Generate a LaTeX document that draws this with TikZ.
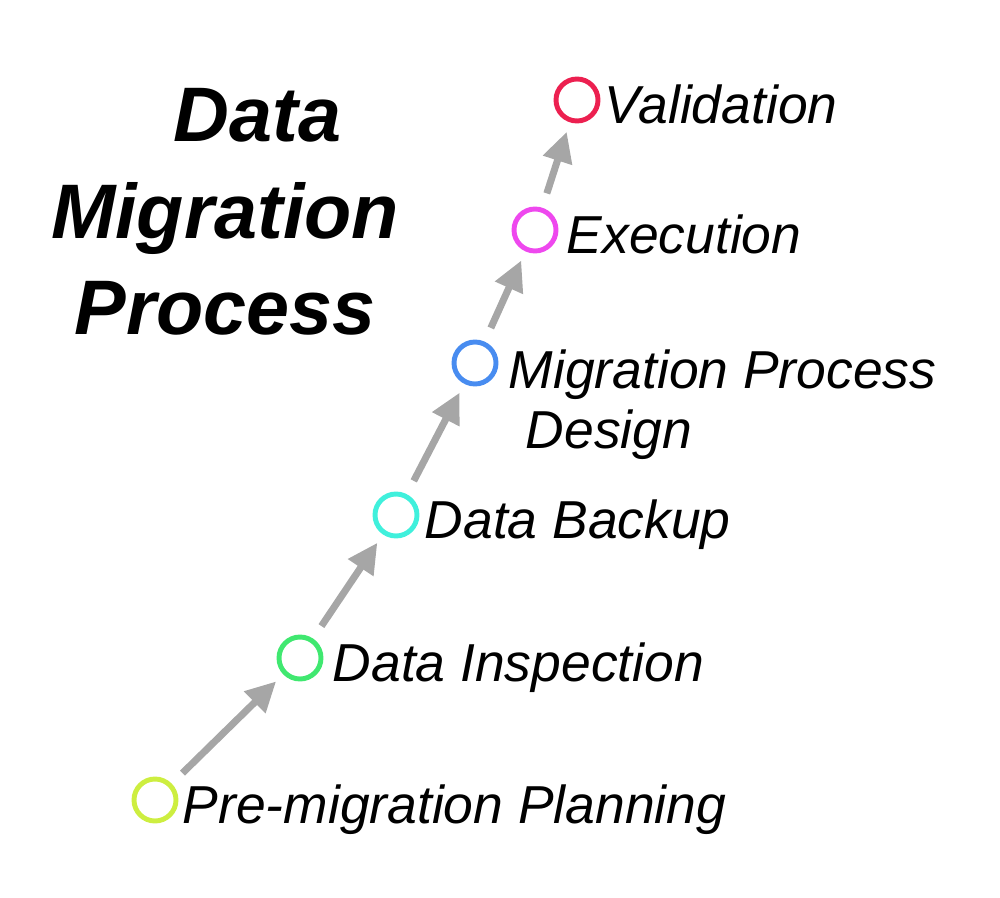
\documentclass[tikz,border=0pt]{standalone}
\usepackage{xcolor}
\usepackage{fontspec}
\setmainfont{Liberation Sans}
\usepackage{tikz}
\usetikzlibrary{arrows.meta,positioning}

\definecolor{stepA}{RGB}{205,238,64}
\definecolor{stepB}{RGB}{64,232,112}
\definecolor{stepC}{RGB}{64,240,220}
\definecolor{stepD}{RGB}{72,140,240}
\definecolor{stepE}{RGB}{238,72,238}
\definecolor{stepF}{RGB}{236,32,80}
\definecolor{arrowgray}{RGB}{166,166,166}

\begin{document}
\begin{tikzpicture}[
	ring/.style={circle,draw=#1,line width=2.8pt,minimum size=0.84cm,inner sep=0pt},
	steplabel/.style={inner sep=0pt,font=\fontsize{30.4}{34}\selectfont\itshape,align=left},
	uparrow/.style={draw=arrowgray,line width=4pt,-{Triangle[length=0.6cm,width=0.58cm]},shorten <=0.3cm,shorten >=0.2cm}
	]
					\useasboundingbox (0,0) rectangle (20,17.94);
					\node (title) at (4.5,13.70) [align=center,font=\fontsize{44}{55}\selectfont\bfseries\itshape] {\hspace*{1.3cm}Data\\Migration\\Process};
					% steps, bottom to top
					\node[ring=stepA] (c1) at (3.10,1.94) {};
					\node[ring=stepB] (c2) at (6.00,4.78) {};
					\node[ring=stepC] (c3) at (7.92,7.64) {};
					\node[ring=stepD] (c4) at (9.50,10.68) {};
					\node[ring=stepE] (c5) at (10.70,13.34) {};
					\node[ring=stepF] (c6) at (11.54,15.94) {};
					\node[steplabel,right=0.08cm of c1,anchor=base west,yshift=-0.47cm] (l1) {Pre-migration Planning};
					\node[steplabel,right=0.18cm of c2,anchor=base west,yshift=-0.47cm] (l2) {Data Inspection};
					\node[steplabel,right=0.1cm of c3,anchor=base west,yshift=-0.47cm] (l3) {Data Backup};
					\node[steplabel,right=0.2cm of c4,yshift=-0.84cm] (l4) {Migration Process\\\hspace*{0.34cm}Design};
					\node[steplabel,right=0.16cm of c5,anchor=base west,yshift=-0.47cm] (l5) {Execution};
					\node[steplabel,right=0.08cm of c6,anchor=base west,yshift=-0.47cm] (l6) {Validation};
					\draw[uparrow] (c1) -- (c2);
					\draw[uparrow] (c2) -- (c3);
					\draw[uparrow] (c3) -- (c4);
					\draw[uparrow] (c4) -- (c5);
					\draw[uparrow] (c5) -- (c6);
				\end{tikzpicture}
\end{document}
